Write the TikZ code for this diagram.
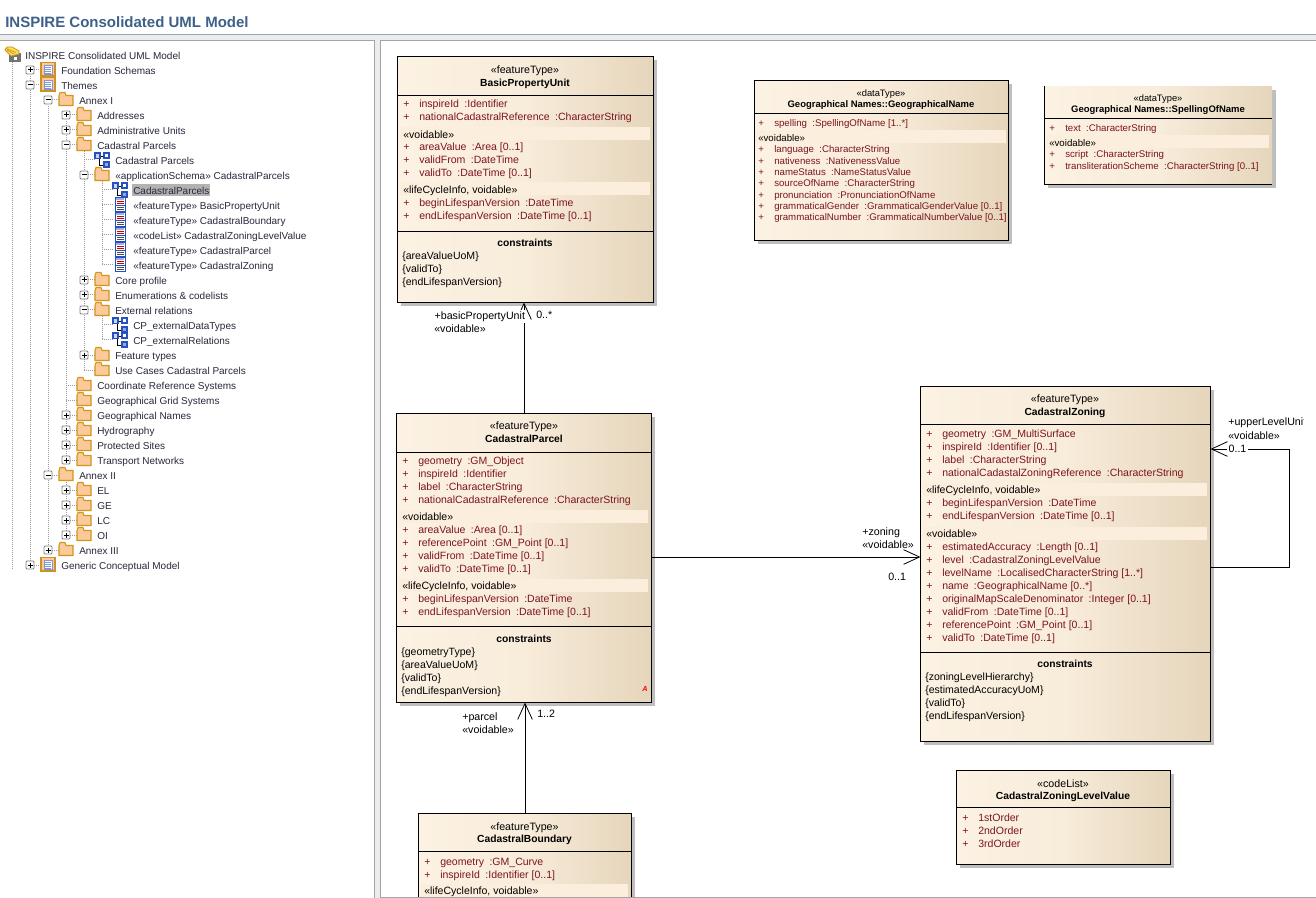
\documentclass[tikz,border=0pt]{standalone}
\usepackage{fontspec}
\setmainfont{Liberation Sans}
\usetikzlibrary{arrows.meta}
\definecolor{gradA}{RGB}{252,242,227}
\definecolor{gradB}{RGB}{248,236,218}
\definecolor{gradC}{RGB}{229,213,187}
\definecolor{bandc}{RGB}{251,238,220}
\definecolor{attrc}{RGB}{125,20,30}
\definecolor{shadowc}{RGB}{190,190,190}
\definecolor{titlec}{RGB}{62,97,138}
\definecolor{treetxt}{RGB}{40,40,60}
\definecolor{paneline}{RGB}{165,165,165}
\definecolor{paneback}{RGB}{236,236,236}
\definecolor{headline}{RGB}{150,165,185}
\definecolor{foldc}{RGB}{251,201,154}
\definecolor{foldl}{RGB}{208,150,30}
\definecolor{iconb}{RGB}{40,80,190}
\pgfdeclarehorizontalshading{umlgrad}{100bp}{color(0bp)=(gradA); color(25bp)=(gradA); color(50bp)=(gradB); color(75bp)=(gradC); color(100bp)=(gradC)}
\newcount\nodenum
\newcommand{\tn}[4]{\global\advance\nodenum by 1 \node[#1] (n\the\nodenum) at (#2,#3) {#4};}
\newcommand{\fsz}{7.9pt}
\newcommand{\fszh}{8pt}
\newcommand{\fszb}{7.7pt}
\tikzset{
  umlbox/.style={draw=black,line width=0.75pt,shading=umlgrad,shading angle=0,inner sep=0pt,outer sep=0pt},
  umlopen/.style={shading=umlgrad,shading angle=0,inner sep=0pt,outer sep=0pt},
  lbl/.style={anchor=mid west,inner sep=0pt,yshift=-0.75pt,font=\fontsize{\fsz}{9pt}\selectfont},
  head/.style={anchor=mid,inner sep=0pt,yshift=-0.75pt,font=\fontsize{\fszh}{9pt}\selectfont},
  headb/.style={anchor=mid,inner sep=0pt,yshift=-0.75pt,font=\fontsize{\fszb}{9pt}\selectfont\bfseries},
  attrt/.style={lbl,text=attrc},
  tree/.style={lbl,text=treetxt,font=\fontsize{7.5pt}{9pt}\selectfont},
  assoc/.style={line width=0.75pt,-{Straight Barb[length=12pt,width=11pt,line width=0.6pt]}},
  plain/.style={line width=0.75pt},
  conl/.style={lbl,text=black,fill=white,inner xsep=1pt,inner ysep=1pt},
  tdot/.style={line width=0.75pt,draw=black!40,dash pattern=on 0.75pt off 0.75pt},
}
% class box
\newcommand{\umlclass}[6][umlbox]{%
  \pgfmathsetmacro{\cx}{(#3+#5)/2}\pgfmathsetmacro{\cy}{(#4+#6)/2}%
  \pgfmathsetmacro{\cw}{(#5-#3)*0.75}\pgfmathsetmacro{\ch}{(#6-#4)*0.75}%
  \fill[shadowc] (#3+3.5,#4+3.5) rectangle (#5+3.5,#6+3.5);
  \node[#1,minimum width=\cw pt,minimum height=\ch pt] (#2) at (\cx,\cy) {};
}
\newcommand{\hdiv}[3]{\draw[plain] (#1,#3) -- (#2,#3);}
\newcommand{\band}[4]{\fill[bandc] (#1+3,#3-6.5) rectangle (#2-3,#3+6.5); \tn{lbl,text=black}{#1+6}{#3}{#4}}
\newcommand{\attr}[4]{\tn{attrt}{#1+6}{#2}{+}\tn{attrt}{#1+22}{#2}{#3\hspace{4pt}:#4}}
\newcommand{\cons}[3]{\tn{lbl}{#1+5}{#2}{#3}}
\newcommand{\htxt}[3]{\tn{head}{#1}{#2}{#3}}
\newcommand{\hbold}[3]{\tn{headb}{#1}{#2}{#3}}
% tree
\newcommand{\icofolder}[2]{%
  \draw[foldl,fill=foldc,line width=0.8pt] (#1-7,#2-4.5) -- (#1-6,#2-7.5) -- (#1-1,#2-7.5) -- (#1,#2-4.5) -- (#1+7,#2-4.5) -- (#1+7,#2+5.5) -- (#1-7,#2+5.5) -- cycle;}
\newcommand{\icopkg}[2]{%
  \draw[foldl!80!brown,fill=foldc,line width=0.9pt] (#1-7,#2-7.5) rectangle (#1+7,#2+6);
  \draw[iconb!60,fill=white,line width=0.6pt] (#1-4,#2-5) rectangle (#1+4,#2+4);
  \foreach \q in {-3,-1,1,3}{\draw[iconb!60,line width=0.6pt] (#1-3,#2+\q) -- (#1+3,#2+\q);}}
\newcommand{\icodiag}[2]{%
  \draw[black,line width=0.6pt] (#1-2,#2-4) -- (#1+2,#2-4) (#1-3,#2-1) -- (#1-3,#2+5) -- (#1+2,#2+5);
  \draw[iconb,fill=iconb!25,line width=0.8pt] (#1-7,#2-7) rectangle (#1-2,#2-1.5);
  \draw[iconb,fill=white,line width=0.8pt] (#1+2,#2-7) rectangle (#1+7,#2-2);
  \draw[iconb,fill=iconb!50,line width=0.8pt] (#1+2,#2+2) rectangle (#1+7,#2+7);}
\newcommand{\icoclass}[2]{%
  \draw[iconb,fill=white,line width=0.7pt] (#1-5,#2-8) rectangle (#1+5,#2+6);
  \fill[iconb!45] (#1-4,#2-7) rectangle (#1+4,#2-5);
  \draw[red!80!black,line width=0.6pt] (#1-3,#2-3.5) -- (#1+4,#2-3.5) (#1-3,#2-1.5) -- (#1+4,#2-1.5);
  \draw[iconb,line width=0.5pt] (#1-5,#2) -- (#1+5,#2);
  \draw[black!70,line width=0.6pt] (#1-3,#2+2) -- (#1+4,#2+2) (#1-3,#2+4) -- (#1+4,#2+4);}
\newcommand{\exbox}[3]{%
  \draw[black!50,fill=white,line width=0.7pt,rounded corners=0.8pt] (#1-4,#2-4) rectangle (#1+4,#2+4);
  \draw[black,line width=0.75pt] (#1-2.5,#2) -- (#1+2.5,#2);
  \ifnum#3=1 \draw[black,line width=0.75pt] (#1,#2-2.5) -- (#1,#2+2.5);\fi}
% row: y, level, icon macro, expander (0 none,1 plus,2 minus), text
\newcommand{\trow}[5]{%
  \pgfmathsetmacro{\ex}{12+18*#2}\pgfmathsetmacro{\ix}{30+18*#2}\pgfmathsetmacro{\tx}{43+18*#2}%
  \draw[tdot] (\ex,#1) -- (\ix-7,#1);
  \ifnum#4=1 \exbox{\ex}{#1}{1}\fi
  \ifnum#4=2 \exbox{\ex}{#1}{0}\fi
  #3{\ix}{#1}
  \tn{tree}{\tx}{#1}{#5}}
\begin{document}
\begin{tikzpicture}[x=0.75pt,y=-0.75pt]
\useasboundingbox (0,0) rectangle (1316,898);
\clip (0,0) rectangle (1316,898);
\fill[white] (0,0) rectangle (1316,898);
% title and panes
\node[anchor=mid west,inner sep=0pt,text=titlec,font=\fontsize{11.25pt}{12pt}\selectfont\bfseries] (title) at (5,23.5) {INSPIRE Consolidated UML Model};
\fill[paneback] (0,35) rectangle (1316,40);
\fill[paneback] (375,35) rectangle (380,898);
\draw[headline,line width=0.75pt] (0,34.5) -- (1316,34.5);
\draw[paneline,line width=0.9pt] (0,40.5) -- (374.5,40.5) -- (374.5,898);
\draw[paneline,line width=0.9pt] (1316,40.5) -- (380.5,40.5) -- (380.5,897.5);
% tree connector lines
\draw[tdot] (12,58) -- (12,570);
\draw[tdot] (30,76) -- (30,565);
\draw[tdot] (48,106) -- (48,550);
\draw[tdot] (66,121) -- (66,460) (66,482) -- (66,535);
\draw[tdot] (84,151) -- (84,370);
\draw[tdot] (102,181) -- (102,265) (102,316) -- (102,340);
\fill[black!55] (9,53) rectangle (21,62);
\fill[white] (13.5,57) rectangle (17,60);
\draw[foldl,fill=yellow!45!foldc,line width=0.6pt] (5,50) -- (7,47) -- (12,47) -- (19,51) -- (19,54) -- (11,56) -- cycle;
\draw[foldl,line width=0.5pt] (6,48.5) -- (16,52.5) (7,50) -- (14,54);
\node[tree] (rootlabel) at (25,55) {INSPIRE Consolidated UML Model};
\trow{70}{1}{\icopkg}{1}{Foundation Schemas}
\trow{85}{1}{\icopkg}{2}{Themes}
\trow{100}{2}{\icofolder}{2}{Annex I}
\trow{115}{3}{\icofolder}{1}{Addresses}
\trow{130}{3}{\icofolder}{1}{Administrative Units}
\trow{145}{3}{\icofolder}{2}{Cadastral Parcels}
\trow{160}{4}{\icodiag}{0}{Cadastral Parcels}
\trow{175}{4}{\icofolder}{2}{«applicationSchema» CadastralParcels}
\fill[black!30] (132,184.5) rectangle (209.5,196);
\trow{190}{5}{\icodiag}{0}{CadastralParcels}
\trow{205}{5}{\icoclass}{0}{«featureType» BasicPropertyUnit}
\trow{220}{5}{\icoclass}{0}{«featureType» CadastralBoundary}
\trow{235}{5}{\icoclass}{0}{«codeList» CadastralZoningLevelValue}
\trow{250}{5}{\icoclass}{0}{«featureType» CadastralParcel}
\trow{265}{5}{\icoclass}{0}{«featureType» CadastralZoning}
\trow{280}{4}{\icofolder}{1}{Core profile}
\trow{295}{4}{\icofolder}{1}{Enumerations \& codelists}
\trow{310}{4}{\icofolder}{2}{External relations}
\trow{325}{5}{\icodiag}{0}{CP\_externalDataTypes}
\trow{340}{5}{\icodiag}{0}{CP\_externalRelations}
\trow{355}{4}{\icofolder}{1}{Feature types}
\trow{370}{4}{\icofolder}{0}{Use Cases Cadastral Parcels}
\trow{385}{3}{\icofolder}{0}{Coordinate Reference Systems}
\trow{400}{3}{\icofolder}{0}{Geographical Grid Systems}
\trow{415}{3}{\icofolder}{1}{Geographical Names}
\trow{430}{3}{\icofolder}{1}{Hydrography}
\trow{445}{3}{\icofolder}{1}{Protected Sites}
\trow{460}{3}{\icofolder}{1}{Transport Networks}
\trow{475}{2}{\icofolder}{2}{Annex II}
\trow{490}{3}{\icofolder}{1}{EL}
\trow{505}{3}{\icofolder}{1}{GE}
\trow{520}{3}{\icofolder}{1}{LC}
\trow{535}{3}{\icofolder}{1}{OI}
\trow{550}{2}{\icofolder}{1}{Annex III}
\trow{565}{1}{\icopkg}{1}{Generic Conceptual Model}
% BasicPropertyUnit
\umlclass{bpu}{397.5}{56.5}{653.5}{302.5}
\htxt{525}{69}{«featureType»}
\hbold{525}{82}{BasicPropertyUnit}
\hdiv{397.5}{653.5}{95.5}
\attr{397}{103}{inspireId}{Identifier}
\attr{397}{116}{nationalCadastralReference}{CharacterString}
\band{397}{653}{134}{«voidable»}
\attr{397}{146}{areaValue}{Area [0..1]}
\attr{397}{159}{validFrom}{DateTime}
\attr{397}{172}{validTo}{DateTime [0..1]}
\band{397}{653}{189}{«lifeCycleInfo, voidable»}
\attr{397}{202}{beginLifespanVersion}{DateTime}
\attr{397}{215}{endLifespanVersion}{DateTime [0..1]}
\hdiv{397.5}{653.5}{231.5}
\hbold{525}{242}{constraints}
\cons{397}{255}{\{areaValueUoM\}}
\cons{397}{268}{\{validTo\}}
\cons{397}{281}{\{endLifespanVersion\}}
% CadastralParcel
\umlclass{parcel}{396.5}{413.5}{651.5}{702.5}
\htxt{524}{425}{«featureType»}
\hbold{524}{438}{CadastralParcel}
\hdiv{396.5}{651.5}{452.5}
\attr{396}{460}{geometry}{GM\_Object}
\attr{396}{473}{inspireId}{Identifier}
\attr{396}{486}{label}{CharacterString}
\attr{396}{499}{nationalCadastralReference}{CharacterString}
\band{396}{651}{516}{«voidable»}
\attr{396}{529}{areaValue}{Area [0..1]}
\attr{396}{542}{referencePoint}{GM\_Point [0..1]}
\attr{396}{555}{validFrom}{DateTime [0..1]}
\attr{396}{568}{validTo}{DateTime [0..1]}
\band{396}{651}{585}{«lifeCycleInfo, voidable»}
\attr{396}{598}{beginLifespanVersion}{DateTime}
\attr{396}{611}{endLifespanVersion}{DateTime [0..1]}
\hdiv{396.5}{651.5}{626.5}
\hbold{524}{638}{constraints}
\cons{396}{651}{\{geometryType\}}
\cons{396}{664}{\{areaValueUoM\}}
\cons{396}{677}{\{validTo\}}
\cons{396}{690}{\{endLifespanVersion\}}
\node[anchor=mid,inner sep=0pt,text=red,font=\fontsize{5.5pt}{6pt}\selectfont\bfseries\itshape] (parcelmark) at (645,688) {A};
% CadastralBoundary
\umlclass{boundary}{418.5}{813.5}{631.5}{960}
\htxt{524.5}{826}{«featureType»}
\hbold{524.5}{838}{CadastralBoundary}
\hdiv{418.5}{631.5}{851.5}
\attr{418}{861}{geometry}{GM\_Curve}
\attr{418}{874}{inspireId}{Identifier [0..1]}
\band{418}{631}{890}{«lifeCycleInfo, voidable»}
\fill[paneback] (380,898) rectangle (1316,899);
\draw[paneline,line width=0.9pt] (380.5,897.5) -- (1316,897.5);
% CadastralZoning
\umlclass{zoning}{920.5}{386.5}{1210.5}{741.5}
\htxt{1065}{398}{«featureType»}
\hbold{1065}{411}{CadastralZoning}
\hdiv{920.5}{1210.5}{424.5}
\attr{920}{433}{geometry}{GM\_MultiSurface}
\attr{920}{446}{inspireId}{Identifier [0..1]}
\attr{920}{459}{label}{CharacterString}
\attr{920}{472}{nationalCadastalZoningReference}{CharacterString}
\band{920}{1210}{489}{«lifeCycleInfo, voidable»}
\attr{920}{502}{beginLifespanVersion}{DateTime}
\attr{920}{515}{endLifespanVersion}{DateTime [0..1]}
\band{920}{1210}{533}{«voidable»}
\attr{920}{546}{estimatedAccuracy}{Length [0..1]}
\attr{920}{559}{level}{CadastralZoningLevelValue}
\attr{920}{572}{levelName}{LocalisedCharacterString [1..*]}
\attr{920}{585}{name}{GeographicalName [0..*]}
\attr{920}{598}{originalMapScaleDenominator}{Integer [0..1]}
\attr{920}{611}{validFrom}{DateTime [0..1]}
\attr{920}{624}{referencePoint}{GM\_Point [0..1]}
\attr{920}{637}{validTo}{DateTime [0..1]}
\hdiv{920.5}{1210.5}{652.5}
\hbold{1065}{663}{constraints}
\cons{920}{676}{\{zoningLevelHierarchy\}}
\cons{920}{689}{\{estimatedAccuracyUoM\}}
\cons{920}{702}{\{validTo\}}
\cons{920}{715}{\{endLifespanVersion\}}
% code list
\umlclass{codelist}{956.5}{770.5}{1170.5}{864.5}
\htxt{1063}{783}{«codeList»}
\hbold{1063}{795}{CadastralZoningLevelValue}
\hdiv{956.5}{1170.5}{807.5}
\tn{attrt}{962}{817}{+}\tn{attrt}{978}{817}{1stOrder}
\tn{attrt}{962}{830}{+}\tn{attrt}{978}{830}{2ndOrder}
\tn{attrt}{962}{843}{+}\tn{attrt}{978}{843}{3rdOrder}
% the two scaled-down data types
\renewcommand{\fsz}{7.25pt}\renewcommand{\fszh}{7pt}\renewcommand{\fszb}{7.1pt}
% GeographicalName
\umlclass{geoname}{754.5}{80.5}{1008.5}{240.5}
\htxt{881}{92}{«dataType»}
\hbold{881}{103}{Geographical Names::GeographicalName}
\hdiv{754.5}{1008.5}{113.5}
\attr{752}{122}{spelling}{SpellingOfName [1..*]}
\band{752}{1009}{137}{«voidable»}
\attr{752}{148}{language}{CharacterString}
\attr{752}{160}{nativeness}{NativenessValue}
\attr{752}{171}{nameStatus}{NameStatusValue}
\attr{752}{182}{sourceOfName}{CharacterString}
\attr{752}{194}{pronunciation}{PronunciationOfName}
\attr{752}{205}{grammaticalGender}{GrammaticalGenderValue [0..1]}
\attr{752}{216}{grammaticalNumber}{GrammaticalNumberValue [0..1]}
% SpellingOfName
\umlclass[umlopen]{spelling}{1044.5}{86.5}{1272}{184.5}
\draw[plain] (spelling.north west) -- (spelling.south west) -- (spelling.south east);
\htxt{1158}{97}{«dataType»}
\hbold{1158}{108}{Geographical Names::SpellingOfName}
\hdiv{1044.5}{1272}{118.5}
\attr{1043}{127}{text}{CharacterString}
\band{1043}{1272}{142}{«voidable»}
\attr{1043}{153}{script}{CharacterString}
\attr{1043}{165}{transliterationScheme}{CharacterString [0..1]}
\renewcommand{\fsz}{8pt}
% connectors
\coordinate (zy) at (0,557);
\coordinate (loopt) at (1289,449);
\coordinate (loopb) at (1289,567);
\draw[assoc] (parcel.north) -- (parcel.north |- bpu.south);
\draw[assoc] (boundary.north) -- (boundary.north |- parcel.south);
\draw[assoc] (parcel.east |- zy) -- (zoning.west |- zy);
\draw[assoc] (zoning.east |- loopb) -- (loopb) -- (loopt) -- (zoning.east |- loopt);
% connector labels
\node[conl] (bpurole) at (433,315) {+basicPropertyUnit};
\node[lbl] (bpuvoid) at (434,328) {«voidable»};
\node[lbl] (bpumult) at (536,314) {0..*};
\node[lbl] (parcelrole) at (462,716) {+parcel};
\node[lbl] (parcelvoid) at (462,729) {«voidable»};
\node[lbl] (parcelmult) at (537,713) {1..2};
\node[lbl] (zonrole) at (862,531) {+zoning};
\node[lbl] (zonvoid) at (862,544) {«voidable»};
\node[lbl] (zonmult) at (888,576) {0..1};
\begin{scope}
\clip (1220,410) rectangle (1303,470);
\node[lbl] (uprole) at (1228,421) {+upperLevelUnit};
\node[lbl] (upvoid) at (1228,435) {«voidable»};
\node[conl] (upmult) at (1227,448) {0..1};
\end{scope}
\end{tikzpicture}
\end{document}
